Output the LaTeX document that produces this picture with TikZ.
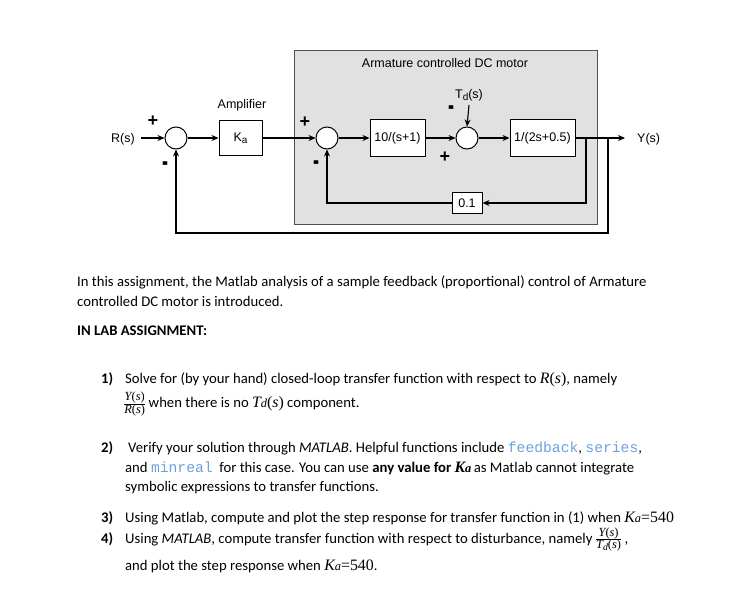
\documentclass[tikz,border=0pt]{standalone}
\usepackage{fontspec}
\setmainfont{Carlito}
\newfontfamily\diafont{Liberation Sans}
\newfontfamily\mfont[Scale=1.08]{Liberation Serif}
\setmonofont{Liberation Mono}
\usetikzlibrary{arrows.meta}
\definecolor{codeblue}{RGB}{110,160,220}
\definecolor{shadefill}{RGB}{225,225,225}
\definecolor{shadeedge}{RGB}{80,80,80}
\newcommand{\cd}[1]{{\ttfamily\color{codeblue}#1}}
\newcommand{\mi}[1]{{\mfont\itshape #1}}
\newcommand{\mup}[1]{{\mfont #1}}
\newcommand{\sm}[1]{{\fontsize{11.5}{12}\selectfont #1}}
\newcommand{\vfr}[2]{$\vcenter{\hbox{\ensuremath{\frac{\hbox{\sm{#1}}}{\hbox{\sm{#2}}}}}}$}
\newcommand{\minus}{\scalebox{1}[1.7]{-}}
\begin{document}
\begin{tikzpicture}[x=1pt,y=-1pt,
  ln/.style={line width=1.1pt},
  arr/.style={ln,-{Stealth[length=7pt,width=6pt]}},
  dfont/.style={font=\diafont\fontsize{12.5}{14}\selectfont},
  blk/.style={draw,line width=1pt,fill=white,minimum height=35pt,inner sep=1pt,dfont},
  sumnode/.style={circle,draw,line width=1pt,fill=white,minimum size=22pt,inner sep=0pt},
  lbl/.style={inner sep=0pt,dfont},
  sgn/.style={inner sep=0pt,font=\diafont\bfseries\fontsize{18}{18}\selectfont},
  body/.style={anchor=west,inner sep=0pt,font=\fontsize{14.7}{17}\selectfont},
  bnum/.style={body,font=\bfseries\fontsize{14.7}{17}\selectfont}]
\useasboundingbox (0,0) rectangle (737,592);
% shaded motor box
\node[draw=shadeedge,fill=shadefill,line width=0.8pt,minimum width=303pt,minimum height=174pt,inner sep=0pt] (motor) at (445.5,137) {};
\node[lbl] (title) at (445,63) {Armature controlled DC motor};
% nodes
\node[lbl] (R) at (123,139) {R(s)};
\coordinate (Rin) at (141,138);
\node[sumnode] (s1) at (176,138) {};
\node[lbl] (amp) at (242,105) {Amplifier};
\node[blk,minimum width=43pt] (ka) at (240.5,138) {K\raisebox{-0.35ex}{\fontsize{10}{10}\selectfont a}};
\node[sumnode] (s2) at (327,138) {};
\node[blk,minimum width=55pt,minimum height=37pt] (g1) at (397.5,138) {10/(s+1)};
\node[sumnode] (s3) at (467,138) {};
\node[blk,minimum width=65pt,minimum height=37pt] (g2) at (542.5,138) {1/(2s+0.5)};
\node[blk,minimum width=30pt,minimum height=21pt] (h) at (467,203) {0.1};
\node[lbl] (Td) at (469,95) {T\raisebox{-0.35ex}{\fontsize{10}{10}\selectfont d}(s)};
\coordinate (TdIn) at (469,105);
\node[lbl,anchor=west] (Y) at (637,139) {Y(s)};
\coordinate (b1) at (586,138);
\coordinate (b2) at (608,138);
\coordinate (yout) at (625,138);
% signs
\node[sgn] (p1) at (153,121) {+};
\node[sgn] (m1) at (165,167) {\minus};
\node[sgn] (p2) at (305,122) {+};
\node[sgn] (m2) at (316,166) {\minus};
\node[sgn] (m3) at (451,111) {\minus};
\node[sgn] (p3) at (445,157) {+};
% connectors
\draw[arr] (Rin) -- (s1.west);
\draw[arr] (s1.east) -- (ka.west);
\draw[arr] (ka.east) -- (s2.west);
\draw[arr] (s2.east) -- (g1.west);
\draw[arr] (g1.east) -- (s3.west);
\draw[arr] (s3.east) -- (g2.west);
\draw[arr] (TdIn) -- (s3.north);
\draw[arr] (g2.east) -- (yout);
\draw[arr] (b1) |- (h.east);
\draw[arr] (h.west) -| (s2.south);
\draw[arr] (b2) -- (608,233) -| (s1.south);
% body text
\node[body] (t1) at (77,282.7) {In this assignment, the Matlab analysis of a sample feedback (proportional) control of Armature};
\node[body] (t2) at (77,301.5) {controlled DC motor is introduced.};
\node[bnum] (t3) at (77,330.7) {IN LAB ASSIGNMENT:};
\node[bnum] (n1) at (101,379.5) {1)};
\node[body] (l1a) at (125,379.5) {Solve for (by your hand) closed-loop transfer function with respect to \mi{R}\mup{(}\mi{s}\mup{)}, namely};
\node[body] (l1b) at (123,404) {\vfr{\mi{Y}\mup{(}\mi{s}\mup{)}}{\mi{R}\mup{(}\mi{s}\mup{)}}\,when there is no \mi{T}\mi{\sm{d}}\mup{(}\mi{s}\mup{)} component.};
\node[bnum] (n2) at (101,448) {2)};
\node[body] (l2a) at (128,448) {Verify your solution through \textit{MATLAB}. Helpful functions include \cd{feedback}, \cd{series},};
\node[body] (l2b) at (125,468) {and \cd{minreal}\ \ for this case. You can use \textbf{any value for {\mfont\bfseries\itshape K\sm{a}}}\,as Matlab cannot integrate};
\node[body] (l2c) at (125,488) {symbolic expressions to transfer functions.};
\node[bnum] (n3) at (101,518) {3)};
\node[body] (l3) at (125,518) {Using Matlab, compute and plot the step response for transfer function in (1) when \mi{K}\mi{\sm{a}}\mup{=540}};
\node[bnum] (n4) at (101,539.5) {4)};
\node[body] (l4a) at (125,539.5) {Using \textit{MATLAB}, compute transfer function with respect to disturbance, namely\,\vfr{\mi{Y}\mup{(}\mi{s}\mup{)}}{\mi{T}\raisebox{-0.3ex}{\mi{\fontsize{9}{9}\selectfont d}}\mup{(}\mi{s}\mup{)}}\,,};
\node[body] (l4b) at (125,566) {and plot the step response when \mi{K}\mi{\sm{a}}\mup{=540}.};
\end{tikzpicture}
\end{document}
